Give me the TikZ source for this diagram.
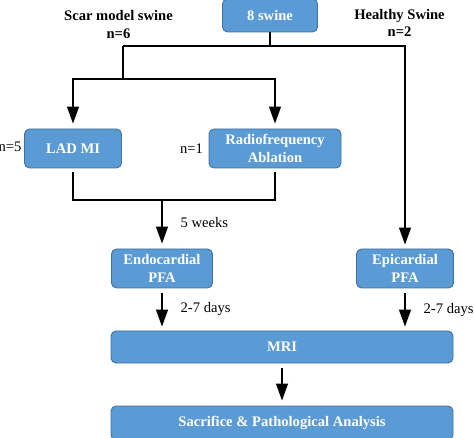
\documentclass[tikz,border=0pt]{standalone}
\usepackage{fontspec}
\setmainfont{Liberation Serif}
\usetikzlibrary{arrows.meta}
\definecolor{boxfill}{HTML}{5B9BD5}
\definecolor{boxedge}{HTML}{41719C}

\begin{document}
\begin{tikzpicture}[x=1pt,y=-1pt,line width=1.3pt,
  >={Triangle[width=12pt,length=17pt]},
  font=\fontsize{14.6}{17.5}\selectfont]
  \tikzstyle{box}=[draw=boxedge,line width=0.9pt,fill=boxfill,rounded corners=5pt,
    text=white,font=\fontsize{14.6}{17.5}\selectfont\bfseries,align=center,inner sep=0pt]
  \tikzstyle{note}=[inner sep=0pt,align=center]

  \useasboundingbox (0,0) rectangle (474,438);

  \node[box,minimum width=95,minimum height=33]  (swine) at (270,15.5)  {8 swine};
  \node[box,minimum width=97,minimum height=39]  (lad)   at (73,148.5)  {LAD MI};
  \node[box,minimum width=132,minimum height=39] (rf)    at (275,148.5) {Radiofrequency\\Ablation};
  \node[box,minimum width=101,minimum height=39] (endo)  at (162,268.5) {Endocardial\\PFA};
  \node[box,minimum width=97,minimum height=39]  (epi)   at (405,268.5) {Epicardial\\PFA};
  \node[box,minimum width=342,minimum height=32] (mri)   at (282,347)   {MRI};
  \node[box,minimum width=342,minimum height=34] (sac)   at (282,423)   {Sacrifice \& Pathological Analysis};

  \node[note,font=\fontsize{14.6}{17.3}\selectfont\bfseries] (scar)    at (118.5,24.5) {Scar model swine\\n=6};
  \node[note,font=\fontsize{14.6}{17.3}\selectfont\bfseries] (healthy) at (399.5,23)   {Healthy Swine\\n=2};
  \node[note,anchor=east] (nlad)   at (22,147)   {n=5};
  \node[note,anchor=east] (nrf)    at (203.5,149) {n=1};
  \node[note,anchor=west] (weeks)  at (180,223)  {5 weeks};
  \node[note,anchor=west] (daysl)  at (180,309)  {2-7 days};
  \node[note,anchor=west] (daysr)  at (423,310)  {2-7 days};

  \coordinate (fork)  at (swine.south |- 0,46);
  \coordinate (split) at (123,46);
  \coordinate (scarsplit) at (123,79);
  \coordinate (merge) at (162,200);

  \draw (swine.south) -- (fork);
  \draw[->,shorten >=4pt] (split) -| (epi.north);
  \draw (split) -- (scarsplit);
  \draw[->,shorten >=5pt] (scarsplit) -| (lad.north);
  \draw[->,shorten >=5pt] (scarsplit) -| (rf.north);
  \draw[shorten <=4pt] (lad.south) |- (merge);
  \draw[shorten <=4pt] (rf.south) |- (merge);
  \draw[->,shorten >=5pt] (merge) -- (endo.north);
  \draw[->,shorten <=5pt,shorten >=4pt] (endo.south) -- (endo.south |- mri.north);
  \draw[->,shorten <=5pt,shorten >=4pt] (epi.south) -- (epi.south |- mri.north);
  \draw[->,shorten <=5pt,shorten >=5pt] (mri.south) -- (sac.north);
\end{tikzpicture}
\end{document}
